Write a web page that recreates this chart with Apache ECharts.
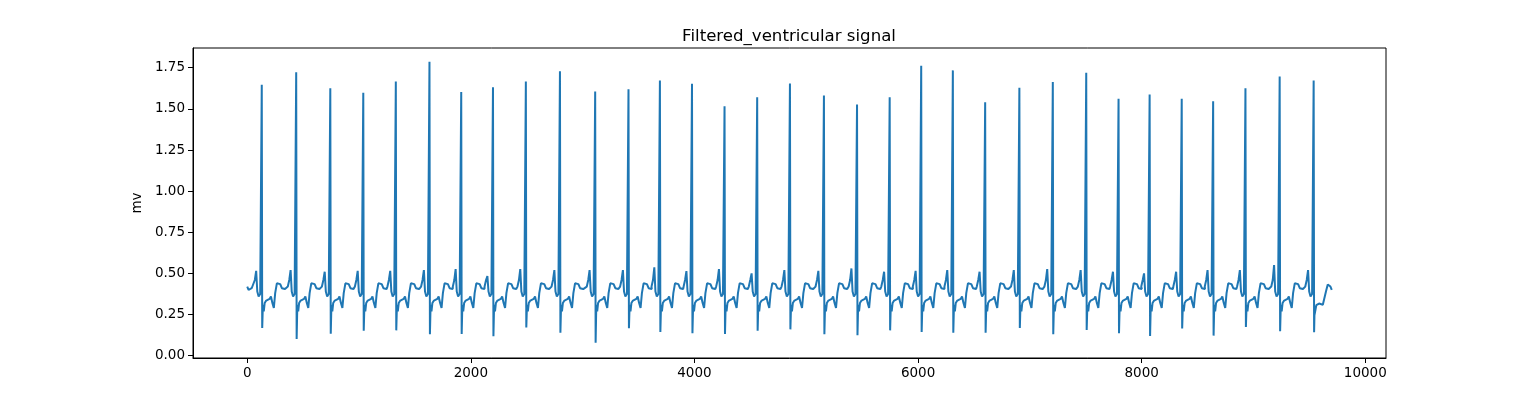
<!DOCTYPE html>
<html>
<head>
<meta charset="utf-8">
<script src="https://cdn.jsdelivr.net/npm/echarts@6/dist/echarts.min.js"></script>
<style>
html,body{margin:0;padding:0;background:#fff;}
#chart{width:1540px;height:400px;}
</style>
</head>
<body>
<div id="chart"></div>
<script>
// R-peak sample positions
const beatX = [130,438,743,1038,1329,1630,1914,2198,2492,2797,3112,3410,3691,3978,4269,4561,4854,5158,5454,5746,6028,6311,6600,6906,7205,7504,7793,8071,8358,8639,8928,9234,9538];
// R-peak heights (mv)
const beatR = [1.646,1.722,1.626,1.598,1.667,1.787,1.602,1.632,1.667,1.728,1.606,1.620,1.673,1.652,1.516,1.571,1.654,1.581,1.526,1.571,1.762,1.734,1.541,1.628,1.663,1.720,1.561,1.587,1.561,1.547,1.626,1.697,1.673];
// S-trough depths right after each R (mv)
const beatS = [0.169,0.102,0.134,0.152,0.154,0.130,0.132,0.118,0.171,0.140,0.079,0.167,0.144,0.136,0.132,0.152,0.160,0.130,0.124,0.154,0.144,0.140,0.140,0.169,0.130,0.156,0.136,0.120,0.165,0.122,0.175,0.148,0.142];
// sharp peak shortly before each R (mv)
const beatP = [0.516,0.520,0.510,0.516,0.516,0.520,0.526,0.484,0.526,0.520,0.520,0.520,0.537,0.514,0.526,0.500,0.520,0.516,0.530,0.510,0.516,0.520,0.510,0.520,0.526,0.520,0.510,0.500,0.510,0.520,0.520,0.551,0.520];

// wave shape after an R peak (sample offsets from R, values in mv)
const postOffsets = [10,18,26,40,55,70,82,95,108,120,135,150,165,180,195,208];
const postValues  = [0.31,0.27,0.32,0.335,0.325,0.345,0.36,0.32,0.29,0.38,0.44,0.43,0.435,0.41,0.40,0.405];
// wave shape before an R peak (sample offsets to R, values in mv; null = beatP)
const preOffsets = [-75,-62,-50,-40,-28,-14,-4];
const preValues  = [0.42,0.46,null,0.39,0.36,0.375,0.365];
const sOffset = 4;

// start of record before the first beat
const leadX = [0,12,25,40];
const leadY = [0.42,0.40,0.39,0.41];
// end of record after the last beat
const tailX = [9545,9562,9586,9620,9648,9664,9688,9700];
const tailY = [0.245,0.307,0.317,0.31,0.39,0.433,0.42,0.40];

const xTicks = [0,2000,4000,6000,8000,10000];
const yTicks = [0,0.25,0.5,0.75,1.0,1.25,1.5,1.75];

const data = [];
for (let i = 0; i < leadX.length; i++) data.push([leadX[i], leadY[i]]);
for (let b = 0; b < beatX.length; b++) {
  const r = beatX[b];
  for (let k = 0; k < preOffsets.length; k++) {
    const v = preValues[k] === null ? beatP[b] : preValues[k];
    data.push([r + preOffsets[k], v]);
  }
  data.push([r, beatR[b]]);
  data.push([r + sOffset, beatS[b]]);
  if (b < beatX.length - 1) {
    for (let k = 0; k < postOffsets.length; k++) data.push([r + postOffsets[k], postValues[k]]);
  }
}
for (let i = 0; i < tailX.length; i++) data.push([tailX[i], tailY[i]]);

const chart = echarts.init(document.getElementById('chart'), null, {renderer: 'canvas'});
const font = 'DejaVu Sans';
chart.setOption({
  animation: false,
  backgroundColor: '#fff',
  title: {
    text: 'Filtered_ventricular signal',
    left: 784, top: 23, textAlign: 'center',
    textStyle: {fontFamily: font, fontSize: 16.6, fontWeight: 'normal', color: '#000'}
  },
  grid: {left: 193, right: 154, top: 48, bottom: 42, show: true, borderColor: '#000', borderWidth: 1, backgroundColor: 'transparent'},
  xAxis: {
    type: 'value', min: -485, max: 10185,
    axisLine: {show: true, onZero: false, lineStyle: {color: '#000', width: 1}},
    axisTick: {show: true, length: 5, lineStyle: {color: '#000'}, customValues: xTicks},
    axisLabel: {fontFamily: font, fontSize: 13.5, color: '#000', margin: 8, customValues: xTicks,
      formatter: v => String(v)},
    splitLine: {show: false}
  },
  yAxis: {
    type: 'value', min: -0.014, max: 1.87,
    name: 'mv', nameLocation: 'middle', nameGap: 46, nameRotate: 90,
    nameTextStyle: {fontFamily: font, fontSize: 13.5, color: '#000'},
    axisLine: {show: true, onZero: false, lineStyle: {color: '#000', width: 1}},
    axisTick: {show: true, length: 5, lineStyle: {color: '#000'}, customValues: yTicks},
    axisLabel: {fontFamily: font, fontSize: 13.5, color: '#000', margin: 8, customValues: yTicks,
      formatter: v => v.toFixed(2)},
    splitLine: {show: false}
  },
  series: [{
    type: 'line', data: data, showSymbol: false, sampling: null,
    lineStyle: {color: '#1f77b4', width: 2}, itemStyle: {color: '#1f77b4'}
  }]
});
</script>
</body>
</html>
